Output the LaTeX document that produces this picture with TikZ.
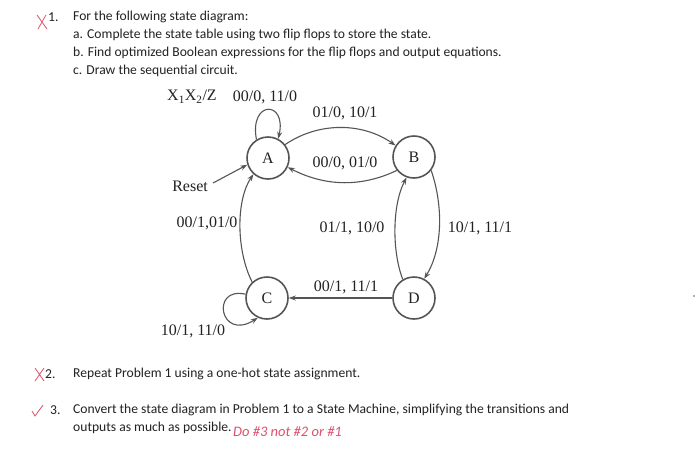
\documentclass[tikz,border=0pt]{standalone}
\usepackage{fontspec}
\setmainfont{Carlito}
\newfontfamily\diafont{Liberation Serif}
\usetikzlibrary{arrows.meta}
\definecolor{lineg}{HTML}{555555}
\definecolor{txt}{HTML}{222222}
\definecolor{redmk}{HTML}{E0506A}
\tikzset{
  body/.style={anchor=west,inner sep=0pt,text=txt,font=\fontsize{13.6}{15}\selectfont},
  state/.style={circle,draw=lineg,line width=1.6pt,minimum size=42pt,inner sep=0pt,text=txt,font=\diafont\fontsize{16}{17}\selectfont},
  lbl/.style={inner sep=0pt,text=txt,font=\diafont\fontsize{16}{17}\selectfont},
  tr/.style={draw=lineg,line width=1.1pt,-{Stealth[length=7pt,width=5pt]}},
  redpen/.style={redmk,line width=0.8pt},
}
\begin{document}
\begin{tikzpicture}[x=1pt,y=-1pt]
\useasboundingbox (0,0) rectangle (700,453);
\fill[white] (0,0) rectangle (700,453);
% problem 1 text
\draw[redpen] (37,15) -- (47,29) (46,15) -- (38,29);
\node[body] (n1) at (48,17) {1.};
\node[body] (t1) at (73,17) {For the following state diagram:};
\node[body] (t1a) at (73,35) {a. Complete the state table using two flip flops to store the state.};
\node[body] (t1b) at (73,53) {b. Find optimized Boolean expressions for the flip flops and output equations.};
\node[body] (t1c) at (73,71) {c. Draw the sequential circuit.};
% states
\node[state] (A) at (268,158) {A};
\node[state] (B) at (414,157) {B};
\node[state] (C) at (267,298) {C};
\node[state] (D) at (414,298) {D};
% labels
\node[lbl] (hdr) at (192,97) {X\textsubscript{1}X\textsubscript{2}/Z};
\node[lbl] (la) at (265,97) {00/0, 11/0};
\node[lbl] (lab) at (345,113) {01/0, 10/1};
\node[lbl] (lba) at (345,163) {00/0, 01/0};
\node[lbl,anchor=east] (rst) at (208,186) {Reset};
\node[lbl] (lca) at (207,223) {00/1,01/0};
\node[lbl] (ldb) at (352,228) {01/1, 10/0};
\node[lbl] (lbd) at (480,228) {10/1, 11/1};
\node[lbl] (ldc) at (346,287) {00/1, 11/1};
\node[lbl] (lc) at (193,331) {10/1, 11/0};
% transitions
\coordinate (r0) at (213,183);
\draw[tr] (r0) -- (A.198);
\draw[tr] (A.122) .. controls (249,100) and (287,100) .. (A.62);
\draw[tr] (A.38) .. controls (318,122) and (362,122) .. (B.148);
\draw[tr] (B.218) .. controls (362,187) and (326,187) .. (A.335);
\draw[tr] (C.133) .. controls (236,250) and (236,200) .. (A.228);
\draw[tr] (D.121) .. controls (392,252) and (392,205) .. (B.250);
\draw[tr] (B.322) .. controls (444,208) and (442,250) .. (D.62);
\draw[tr] (D.west) -- (C.east);
\draw[tr] (C.170) .. controls (210,286) and (220,342) .. (C.245);
% tiny dot at right edge
\fill[gray!60] (693,295) rectangle (695,297);
% problem 2
\draw[redpen] (35,368) -- (44,381) (44,368) -- (35,381);
\node[body] (n2) at (45,374) {2.};
\node[body] (t2) at (73,374) {Repeat Problem 1 using a one-hot state assignment.};
% problem 3
\draw[redpen] (32,411) -- (35,416) -- (43,405);
\node[body] (n3) at (50,410) {3.};
\node[body] (t3) at (73,410) {Convert the state diagram in Problem 1 to a State Machine, simplifying the transitions and};
\node[body] (t3b) at (73,428) {outputs as much as possible.};
\node[body,text=redmk,font=\fontsize{14.5}{15}\itshape] (hw) at (233,432) {Do \#3 not \#2 or \#1};
\end{tikzpicture}
\end{document}
